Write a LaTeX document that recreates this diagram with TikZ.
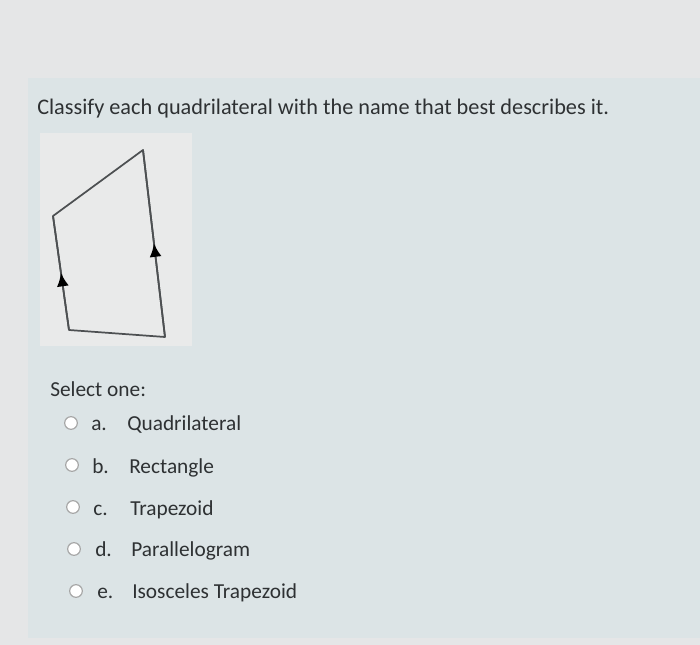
\documentclass[tikz,border=0pt]{standalone}
\usepackage{fontspec}
\setmainfont{Carlito}
\usepackage{xcolor}
\usetikzlibrary{arrows.meta,decorations.markings}
\definecolor{pagegrey}{HTML}{E5E6E7}
\definecolor{panelblue}{HTML}{DCE4E6}
\definecolor{figgrey}{HTML}{E9EAEA}
\definecolor{inkgrey}{HTML}{2E3133}

\begin{document}
\begin{tikzpicture}[x=0.75pt, y=-0.75pt,
  qtext/.style={font=\fontsize{16}{18}\selectfont, text=inkgrey, anchor=base west, inner sep=0},
  radio/.style={circle, draw=gray!70, fill=white, line width=0.9pt, minimum size=9.5pt, inner sep=0},
  midarrow/.style={postaction={decorate}, decoration={markings, mark=at position 0.5 with {\arrow[black]{Latex[length=10pt,width=9pt]}}}}]
%background and panel
\fill[pagegrey] (0,0) rectangle (700,645);
\fill[panelblue] (28,78) rectangle (700,638);
\fill[figgrey] (40,133) rectangle (192,346);
\node[qtext, font=\fontsize{16.7}{19}\selectfont] (title) at (37,115) {Classify each quadrilateral with the name that best describes it.};
%quadrilateral
\coordinate (q1) at (143,150);
\coordinate (q2) at (53,216);
\coordinate (q3) at (69,330);
\coordinate (q4) at (165,337);
\draw[inkgrey!85, line width=1.3pt, line join=round] (q1) -- (q2) -- (q3) -- (q4) -- cycle;
\draw[inkgrey!85, line width=1.3pt, midarrow] (q3) -- (q2);
\draw[inkgrey!85, line width=1.3pt, midarrow] (q4) -- (q1);
%answers
\node[qtext] (select) at (50,397) {Select one:};
\node[radio] (ra) at (71,423) {};
\node[radio] (rb) at (72,465) {};
\node[radio] (rc) at (73,507) {};
\node[radio] (rd) at (74,549) {};
\node[radio] (re) at (76,591) {};
\node[qtext] (la) at (91,431) {a.};
\node[qtext] (lb) at (92,473) {b.};
\node[qtext] (lc) at (93,515) {c.};
\node[qtext] (ld) at (95,556) {d.};
\node[qtext] (le) at (97,598) {e.};
\node[qtext] (ta) at (127,431) {Quadrilateral};
\node[qtext] (tb) at (129,473) {Rectangle};
\node[qtext] (tc) at (130,515) {Trapezoid};
\node[qtext] (td) at (131,556) {Parallelogram};
\node[qtext] (te) at (132,598) {Isosceles Trapezoid};
\end{tikzpicture}
\end{document}
